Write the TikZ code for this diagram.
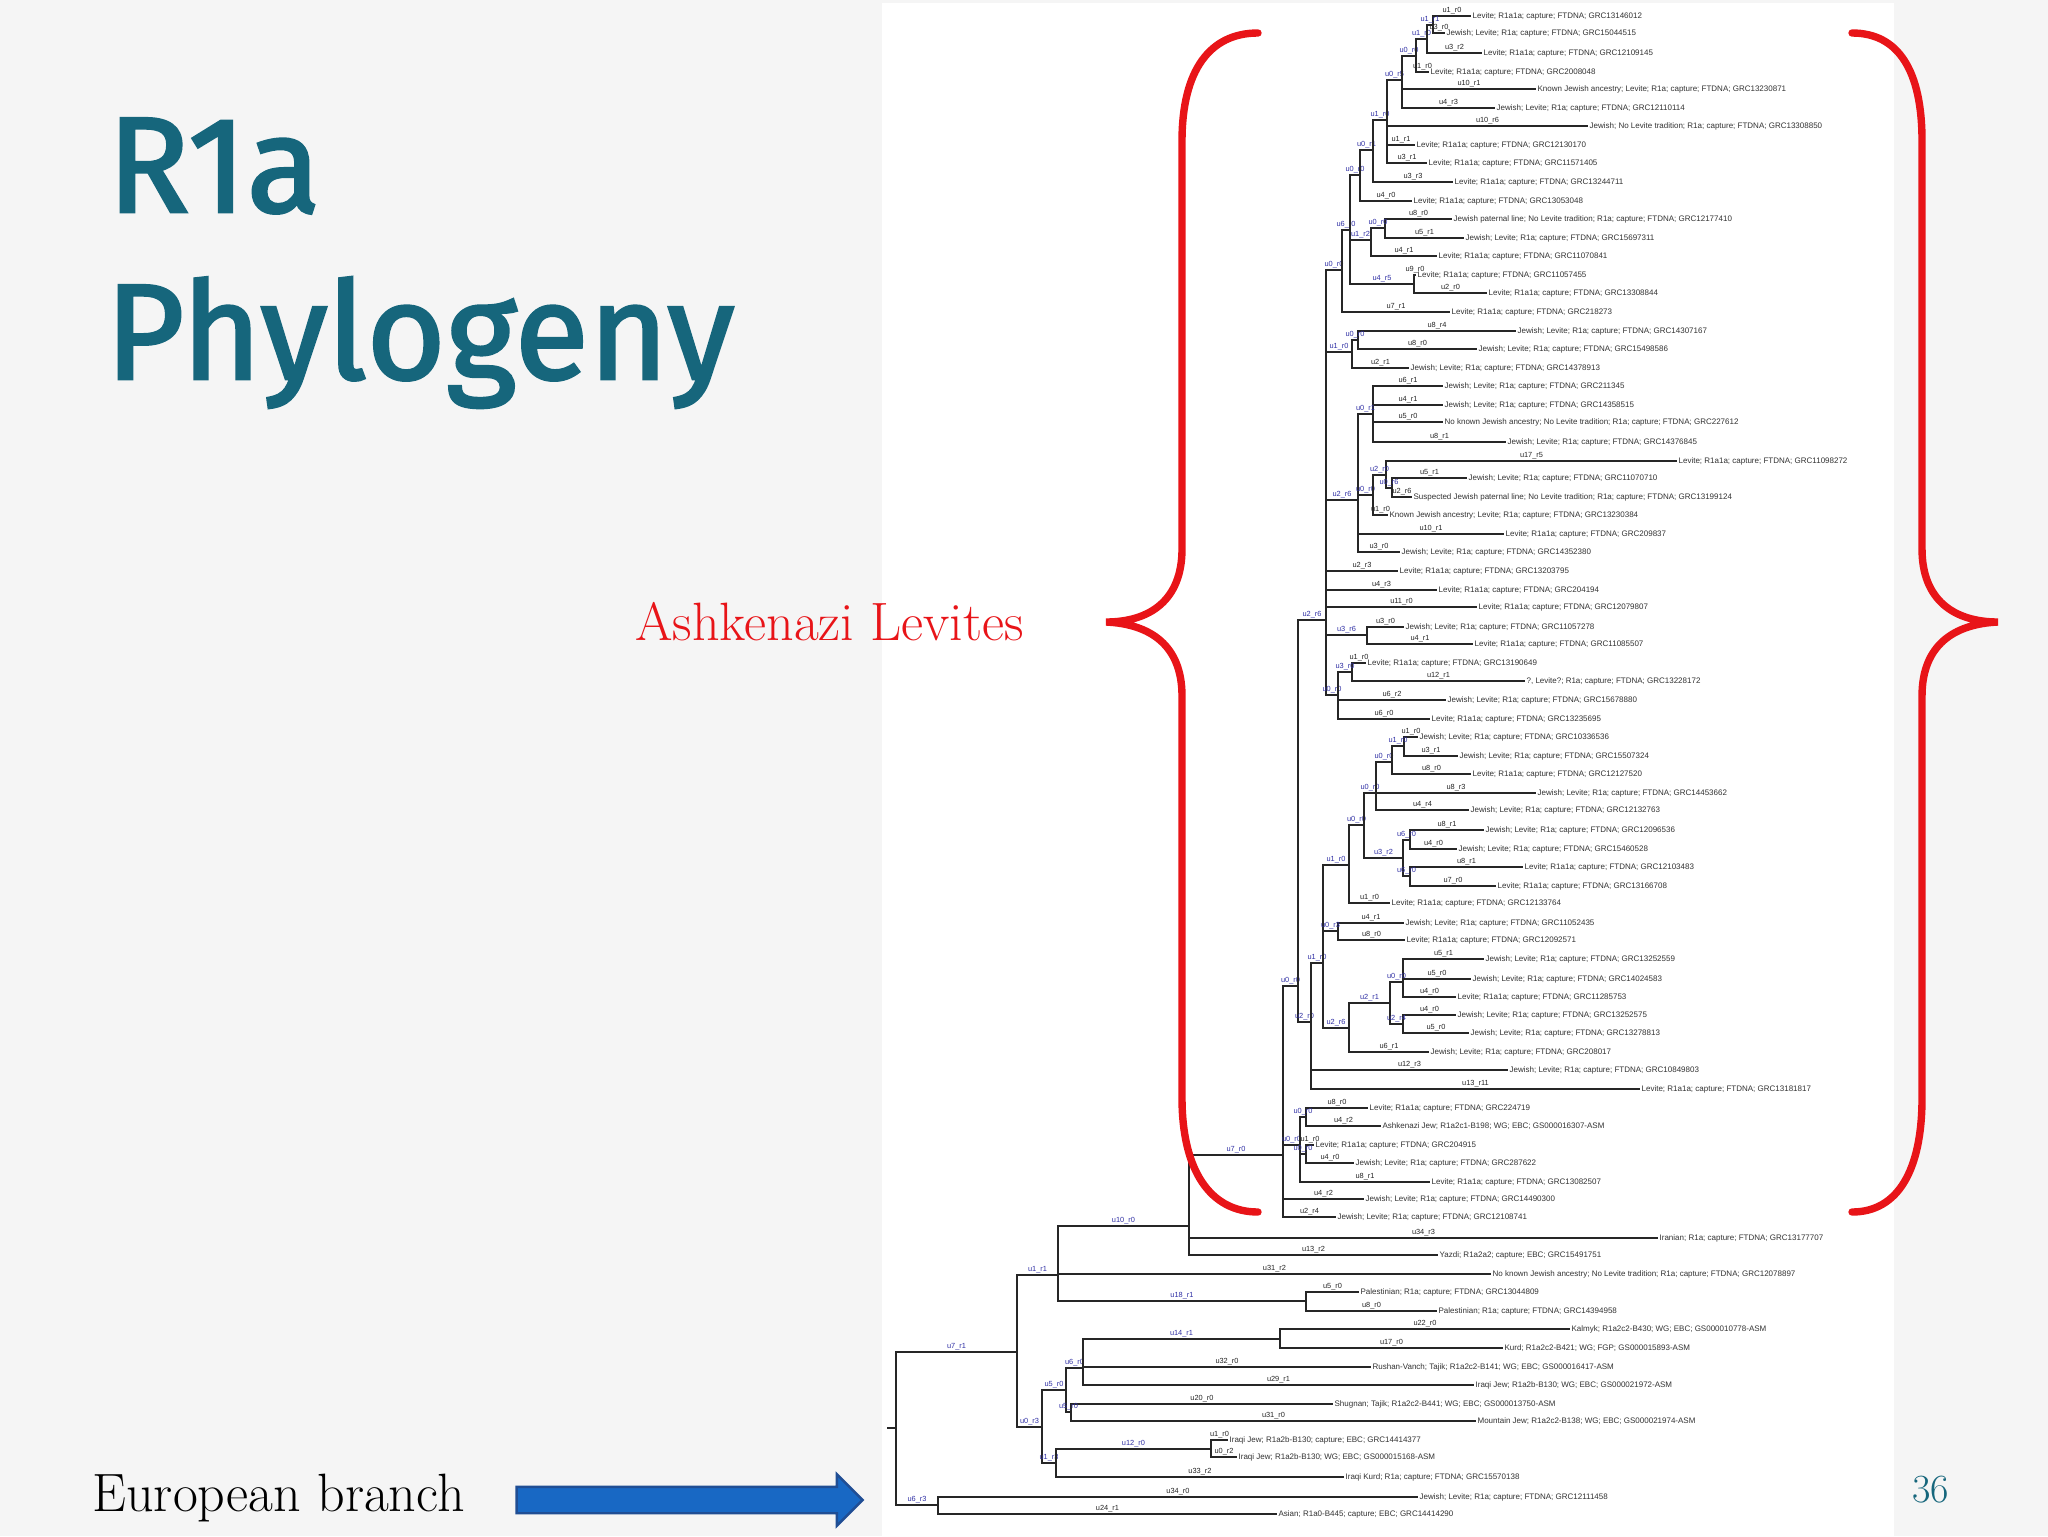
\documentclass[tikz,border=0pt]{standalone}
\usepackage{fontspec}
\setmainfont{Latin Modern Roman}
\newfontfamily\treefont{Liberation Sans}
\newfontfamily\titlefont{Fira Sans}[BoldFont={Fira Sans}, BoldFeatures={FakeBold=2}]
\usetikzlibrary{shapes.arrows}

\definecolor{slidebg}{RGB}{245,245,245}
\definecolor{titleteal}{RGB}{22,102,124}
\definecolor{bracered}{RGB}{232,20,24}
\definecolor{nodeblue}{RGB}{48,48,165}
\definecolor{arrowblue}{RGB}{24,104,196}
\definecolor{arrowedge}{RGB}{32,78,148}

\begin{document}
\begin{tikzpicture}[
  x=0.5pt, y=-0.5pt,
  branch/.style={line width=1pt, black!85},
  leaf/.style={anchor=west, inner sep=0.6pt, font=\treefont\fontsize{4}{4.8}\selectfont, text=black!80},
  llab/.style={above, inner sep=0.4pt, font=\treefont\fontsize{3.7}{4.4}\selectfont, text=black!85},
  blab/.style={llab, text=nodeblue},
  brace/.style={draw=bracered, line width=3.7pt, line cap=round},
  bigarrow/.style={single arrow, single arrow head extend=6.25pt, single arrow tip angle=90,
                   minimum height=173pt, inner sep=0pt,
                   fill=arrowblue, draw=arrowedge, line width=1.2pt},
  slidetext/.style={anchor=base west, inner sep=0pt, font=\fontsize{27}{32}\selectfont}
]

% slide and tree image
\fill[slidebg] (0,0) rectangle (2048,1536);
\fill[white] (882,3) rectangle (1894,1536);
\useasboundingbox (0,0) rectangle (2048,1536);

% internal nodes of the tree
\foreach \n/\x/\y in {
  na/1433/25, nb/1427/39, nc/1416/56, nd/1402/80, ne/1387/120, nf/1373/150,
  ng/1360/175, nh/1385/228, ni/1371/240, nj/1414/284, nk/1350/230, nl/1342/270,
  nmm/1358/340, nm/1352/352, nn/1373/414, noo/1392/488, no/1386/475, np/1373/495,
  nq/1358/500, nr/1326/620, ns/1367/635, nt/1352/672, nu/1338/695,
  nw/1404/746, nx/1392/762, ny/1376/793, nza/1410/840, nzb/1410/876, nz/1403/858,
  naa/1364/825, nab/1349/865, nad/1338/931, nah/1403/982, nai/1403/1024,
  nag/1390/1003, naf/1349/1028, nac/1323/963, nae/1311/1022, nB/1298/986,
  naja/1306/1117, najb/1306/1154, naj/1300/1145, nA/1283/1155,
  c1/1189/1226, c2/1058/1275, c3/1306/1301, c4/1017/1352, c5/1042/1427,
  c6/1066/1390, c7/1083/1368, c7a/1280/1339, c8/1071/1412, c9/1056/1463,
  c10/1211/1449, c11/938/1505, root/896/1428}
  \coordinate (\n) at (\x,\y);
\coordinate (rootstub) at (887,1428);

% Levite clade leaves
\foreach \n/\pa/\x/\y/\lab/\txt in {
  l1/na/1471/16/u1\_r0/Levite; R1a1a; capture; FTDNA; GRC13146012,
  l2/na/1445/33/u3\_r0/Jewish; Levite; R1a; capture; FTDNA; GRC15044515,
  l3/nb/1482/53/u3\_r2/Levite; R1a1a; capture; FTDNA; GRC12109145,
  l4/nc/1429/72/u1\_r0/Levite; R1a1a; capture; FTDNA; GRC2008048,
  l5/nd/1536/89/u10\_r1/Known Jewish ancestry; Levite; R1a; capture; FTDNA; GRC13230871,
  l6/nd/1495/108/u4\_r3/Jewish; Levite; R1a; capture; FTDNA; GRC12110114,
  l7/ne/1588/126/u10\_r6/Jewish; No Levite tradition; R1a; capture; FTDNA; GRC13308850,
  l8/ne/1415/145/u1\_r1/Levite; R1a1a; capture; FTDNA; GRC12130170,
  l9/ne/1427/163/u3\_r1/Levite; R1a1a; capture; FTDNA; GRC11571405,
  l10/nf/1453/182/u3\_r3/Levite; R1a1a; capture; FTDNA; GRC13244711,
  l11/ng/1412/201/u4\_r0/Levite; R1a1a; capture; FTDNA; GRC13053048,
  l12/nh/1452/219/u8\_r0/Jewish paternal line; No Levite tradition; R1a; capture; FTDNA; GRC12177410,
  l13/nh/1464/238/u5\_r1/Jewish; Levite; R1a; capture; FTDNA; GRC15697311,
  l14/ni/1437/256/u4\_r1/Levite; R1a1a; capture; FTDNA; GRC11070841,
  l15/nj/1416/275/u9\_r0/Levite; R1a1a; capture; FTDNA; GRC11057455,
  l16/nj/1487/293/u2\_r0/Levite; R1a1a; capture; FTDNA; GRC13308844,
  l17/nl/1450/312/u7\_r1/Levite; R1a1a; capture; FTDNA; GRC218273,
  l18/nmm/1516/331/u8\_r4/Jewish; Levite; R1a; capture; FTDNA; GRC14307167,
  l19/nmm/1477/349/u8\_r0/Jewish; Levite; R1a; capture; FTDNA; GRC15498586,
  l20/nm/1409/368/u2\_r1/Jewish; Levite; R1a; capture; FTDNA; GRC14378913,
  l21/nn/1443/386/u6\_r1/Jewish; Levite; R1a; capture; FTDNA; GRC211345,
  l22/nn/1443/405/u4\_r1/Jewish; Levite; R1a; capture; FTDNA; GRC14358515,
  l23/nn/1443/422/u5\_r0/No known Jewish ancestry; No Levite tradition; R1a; capture; FTDNA; GRC227612,
  l24/nn/1506/442/u8\_r1/Jewish; Levite; R1a; capture; FTDNA; GRC14376845,
  l25/no/1677/461/u17\_r5/Levite; R1a1a; capture; FTDNA; GRC11098272,
  l26/noo/1467/478/u5\_r1/Jewish; Levite; R1a; capture; FTDNA; GRC11070710,
  l27/noo/1412/497/u2\_r6/Suspected Jewish paternal line; No Levite tradition; R1a; capture; FTDNA; GRC13199124,
  l28/np/1388/515/u1\_r0/Known Jewish ancestry; Levite; R1a; capture; FTDNA; GRC13230384,
  l29/nq/1504/534/u10\_r1/Levite; R1a1a; capture; FTDNA; GRC209837,
  l30/nq/1400/552/u3\_r0/Jewish; Levite; R1a; capture; FTDNA; GRC14352380,
  l31/nr/1398/571/u2\_r3/Levite; R1a1a; capture; FTDNA; GRC13203795,
  l32/nr/1437/590/u4\_r3/Levite; R1a1a; capture; FTDNA; GRC204194,
  l33/nr/1477/607/u11\_r0/Levite; R1a1a; capture; FTDNA; GRC12079807,
  l34/ns/1404/627/u3\_r0/Jewish; Levite; R1a; capture; FTDNA; GRC11057278,
  l35/ns/1473/644/u4\_r1/Levite; R1a1a; capture; FTDNA; GRC11085507,
  l36/nt/1366/663/u1\_r0/Levite; R1a1a; capture; FTDNA; GRC13190649,
  l37/nt/1525/681/u12\_r1/{?, Levite?; R1a; capture; FTDNA; GRC13228172},
  l38/nu/1446/700/u6\_r2/Jewish; Levite; R1a; capture; FTDNA; GRC15678880,
  l39/nu/1430/719/u6\_r0/Levite; R1a1a; capture; FTDNA; GRC13235695,
  l40/nw/1418/737/u1\_r0/Jewish; Levite; R1a; capture; FTDNA; GRC10336536,
  l41/nw/1458/756/u3\_r1/Jewish; Levite; R1a; capture; FTDNA; GRC15507324,
  l42/nx/1471/774/u8\_r0/Levite; R1a1a; capture; FTDNA; GRC12127520,
  l43/ny/1536/793/u8\_r3/Jewish; Levite; R1a; capture; FTDNA; GRC14453662,
  l44/ny/1469/810/u4\_r4/Jewish; Levite; R1a; capture; FTDNA; GRC12132763,
  l45/nza/1484/830/u8\_r1/Jewish; Levite; R1a; capture; FTDNA; GRC12096536,
  l46/nza/1457/849/u4\_r0/Jewish; Levite; R1a; capture; FTDNA; GRC15460528,
  l47/nzb/1523/867/u8\_r1/Levite; R1a1a; capture; FTDNA; GRC12103483,
  l48/nzb/1496/886/u7\_r0/Levite; R1a1a; capture; FTDNA; GRC13166708,
  l49/nab/1390/903/u1\_r0/Levite; R1a1a; capture; FTDNA; GRC12133764,
  l50/nad/1404/923/u4\_r1/Jewish; Levite; R1a; capture; FTDNA; GRC11052435,
  l51/nad/1405/940/u8\_r0/Levite; R1a1a; capture; FTDNA; GRC12092571,
  l52/nah/1484/959/u5\_r1/Jewish; Levite; R1a; capture; FTDNA; GRC13252559,
  l53/nah/1471/979/u5\_r0/Jewish; Levite; R1a; capture; FTDNA; GRC14024583,
  l54/nah/1456/997/u4\_r0/Levite; R1a1a; capture; FTDNA; GRC11285753,
  l55/nai/1456/1015/u4\_r0/Jewish; Levite; R1a; capture; FTDNA; GRC13252575,
  l56/nai/1469/1033/u5\_r0/Jewish; Levite; R1a; capture; FTDNA; GRC13278813,
  l57/naf/1429/1052/u6\_r1/Jewish; Levite; R1a; capture; FTDNA; GRC208017,
  l58/nae/1508/1070/u12\_r3/Jewish; Levite; R1a; capture; FTDNA; GRC10849803,
  l59/nae/1640/1089/u13\_r11/Levite; R1a1a; capture; FTDNA; GRC13181817,
  l60/naja/1368/1108/u8\_r0/Levite; R1a1a; capture; FTDNA; GRC224719,
  l61/naja/1381/1126/u4\_r2/Ashkenazi Jew; R1a2c1-B198; WG; EBC; GS000016307-ASM,
  l62/najb/1314/1145/u1\_r0/Levite; R1a1a; capture; FTDNA; GRC204915,
  l63/najb/1354/1163/u4\_r0/Jewish; Levite; R1a; capture; FTDNA; GRC287622,
  l64/naj/1430/1182/u8\_r1/Levite; R1a1a; capture; FTDNA; GRC13082507,
  l65/nA/1364/1199/u4\_r2/Jewish; Levite; R1a; capture; FTDNA; GRC14490300,
  l66/nA/1336/1217/u2\_r4/Jewish; Levite; R1a; capture; FTDNA; GRC12108741}{
  \node[leaf] (\n) at (\x,\y) {\txt};
  \draw[branch] (\pa) |- (\n.west) node[pos=0.75, llab] {\lab};
}

% outgroup leaves
\foreach \n/\pa/\x/\y/\lab/\txt in {
  i1/c1/1658/1238/u34\_r3/Iranian; R1a; capture; FTDNA; GRC13177707,
  i2/c1/1438/1255/u13\_r2/Yazdi; R1a2a2; capture; EBC; GRC15491751,
  i3/c2/1491/1274/u31\_r2/No known Jewish ancestry; No Levite tradition; R1a; capture; FTDNA; GRC12078897,
  i4/c3/1359/1292/u5\_r0/Palestinian; R1a; capture; FTDNA; GRC13044809,
  i5/c3/1437/1311/u8\_r0/Palestinian; R1a; capture; FTDNA; GRC14394958,
  i6/c7a/1570/1329/u22\_r0/Kalmyk; R1a2c2-B430; WG; EBC; GS000010778-ASM,
  i7/c7a/1503/1348/u17\_r0/Kurd; R1a2c2-B421; WG; FGP; GS000015893-ASM,
  i8/c7/1371/1367/u32\_r0/Rushan-Vanch; Tajik; R1a2c2-B141; WG; EBC; GS000016417-ASM,
  i9/c7/1474/1385/u29\_r1/Iraqi Jew; R1a2b-B130; WG; EBC; GS000021972-ASM,
  i10/c8/1333/1404/u20\_r0/Shugnan; Tajik; R1a2c2-B441; WG; EBC; GS000013750-ASM,
  i11/c8/1476/1421/u31\_r0/Mountain Jew; R1a2c2-B138; WG; EBC; GS000021974-ASM,
  i12/c10/1228/1440/u1\_r0/Iraqi Jew; R1a2b-B130; capture; EBC; GRC14414377,
  i13/c10/1237/1457/u0\_r2/Iraqi Jew; R1a2b-B130; WG; EBC; GS000015168-ASM,
  i14/c9/1344/1477/u33\_r2/Iraqi Kurd; R1a; capture; FTDNA; GRC15570138,
  i15/c11/1418/1497/u34\_r0/Jewish; Levite; R1a; capture; FTDNA; GRC12111458,
  i16/c11/1277/1514/u24\_r1/Asian; R1a0-B445; capture; EBC; GRC14414290}{
  \node[leaf] (\n) at (\x,\y) {\txt};
  \draw[branch] (\pa) |- (\n.west) node[pos=0.75, llab] {\lab};
}

% internal branches
\foreach \pa/\ch/\lab in {
  root/c4/u7\_r1, root/c11/u6\_r3, c4/c2/u1\_r1, c4/c5/u0\_r3, c2/c1/u10\_r0,
  c2/c3/u18\_r1, c1/nA/u7\_r0, c5/c6/u5\_r0, c5/c9/u1\_r3, c6/c7/u6\_r0,
  c6/c8/u5\_r0, c7/c7a/u14\_r1, c9/c10/u12\_r0,
  nA/nB/u0\_r0, nA/naj/u0\_r0, nB/nr/u2\_r6, nB/nae/u2\_r0, nae/nac/u1\_r0,
  nac/nab/u1\_r0, nac/nad/u0\_r3, nac/naf/u2\_r6, naf/nag/u2\_r1, nag/nah/u0\_r0,
  nag/nai/u2\_r4, nab/naa/u0\_r0, naa/ny/u0\_r0, naa/nz/u3\_r2, ny/nx/u0\_r0,
  nx/nw/u1\_r0, nz/nza/u6\_r0, nz/nzb/u6\_r0, naj/naja/u0\_r0, naj/najb/u0\_r0,
  nr/nl/u0\_r0, nr/nm/u1\_r0, nr/nq/u2\_r6, nr/ns/u3\_r6, nr/nu/u0\_r0,
  nu/nt/u3\_r0, nq/nn/u0\_r1, nq/np/u0\_r0, np/no/u2\_r0, no/noo/u0\_r6,
  nl/nk/u6\_r0, nk/ng/u0\_r0, nk/ni/u1\_r2, nk/nj/u4\_r5, ng/nf/u0\_r1,
  nf/ne/u1\_r0, ne/nd/u0\_r5, nd/nc/u0\_r0, nc/nb/u1\_r0, nb/na/u1\_r1,
  ni/nh/u0\_r0, nm/nmm/u0\_r0}
  \draw[branch] (\pa) |- (\ch) node[pos=0.75, blab] {\lab};
\draw[branch] (rootstub) -- (root);

% red braces round the Levite clade
\draw[brace] (1258,33) .. controls (1210,33) and (1182,70) .. (1182,141) -- (1182,549)
  .. controls (1182,600) and (1150,622) .. (1106,622)
  .. controls (1150,624) and (1182,645) .. (1182,696) -- (1182,1098)
  .. controls (1182,1170) and (1210,1212) .. (1258,1212);
\draw[brace] (1852,33) .. controls (1898,33) and (1922,70) .. (1922,141) -- (1922,549)
  .. controls (1922,600) and (1954,622) .. (1998,622)
  .. controls (1954,624) and (1922,645) .. (1922,696) -- (1922,1098)
  .. controls (1922,1170) and (1898,1212) .. (1852,1212);

% slide texts
\node[anchor=base west, inner sep=0pt, text=titleteal, font=\titlefont\bfseries\fontsize{68}{80}\selectfont] (titleA) at (107,212) {R1a};
\node[anchor=base west, inner sep=0pt, text=titleteal, font=\titlefont\bfseries\fontsize{68}{80}\selectfont] (titleB) at (105,379) {Phylogeny};
\node[slidetext, text=bracered] (levites) at (635,640) {Ashkenazi Levites};
\node[slidetext] (european) at (92,1511) {European branch};
\node[bigarrow] (euroarrow) at (683,1500) {\rule{0pt}{12pt}};
\node[anchor=base west, inner sep=0pt, text=titleteal, font=\fontsize{20}{24}\selectfont] (pagenum) at (1912,1502) {36};

\end{tikzpicture}
\end{document}
